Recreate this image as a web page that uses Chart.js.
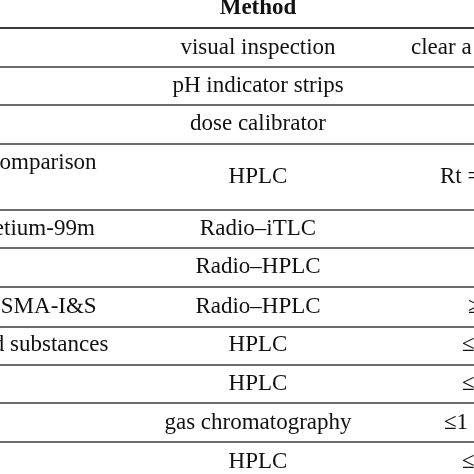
<!DOCTYPE html>
<html><head><meta charset="utf-8">
<script src="https://cdn.jsdelivr.net/npm/chart.js@4"></script>
<style>html,body{margin:0;padding:0;background:#fff;overflow:hidden}#w{width:474px;height:474px}</style>
</head><body><div id="w"><canvas id="c"></canvas></div>
<script>
// Row separator positions (table coordinate space 0..474, top=0)
const rowLines = [28, 67, 105, 144, 210, 248, 287, 327, 365, 403, 442];
// Method column (centered)
const methodText = ["visual inspection","pH indicator strips","dose calibrator","HPLC","Radio\u2013iTLC","Radio\u2013HPLC","Radio\u2013HPLC","HPLC","HPLC","gas chromatography","HPLC"];
const methodY = [48, 86, 124, 177, 229, 267, 307, 345, 384, 423, 462];
// Left (parameter) column fragments
const paramText = ["Identity comparison","Technetium-99m","PSMA-I&S","Related substances"];
const paramY = [163, 229, 307, 345];
const paramX = [-88, -62, -12, -66];
// Right (criteria) column fragments
const critText = ["clear a","Rt =","\u2265","\u22642","\u22642","\u22641","\u22644"];
const critY = [48, 177, 307, 345, 384, 423, 462];
const critX = [411, 440, 468, 462, 462, 444, 462];
const header = "Method";

const FONT = "'Liberation Serif','DejaVu Serif',serif";
const lineSets = rowLines.map(y => ({type:'line', data:[{x:-10,y},{x:484,y}], borderColor:'#3a3a3a', borderWidth: y===28?2:1.6, pointRadius:0}));
const textPlugin = {
  id:'tbl',
  afterDatasetsDraw(chart){
    const {ctx, scales:{x, y}} = chart;
    ctx.save();
    ctx.fillStyle = '#111';
    ctx.textBaseline = 'middle';
    ctx.font = "bold 23px " + FONT;
    ctx.textAlign = 'center';
    ctx.fillText(header, x.getPixelForValue(258), y.getPixelForValue(8));
    ctx.font = "23px " + FONT;
    methodText.forEach((t,i)=>ctx.fillText(t, x.getPixelForValue(258), y.getPixelForValue(methodY[i])));
    ctx.textAlign = 'left';
    paramText.forEach((t,i)=>ctx.fillText(t, x.getPixelForValue(paramX[i]), y.getPixelForValue(paramY[i])));
    critText.forEach((t,i)=>ctx.fillText(t, x.getPixelForValue(critX[i]), y.getPixelForValue(critY[i])));
    ctx.restore();
  }
};
new Chart(document.getElementById('c'), {
  type:'scatter',
  data:{datasets: lineSets},
  options:{
    responsive:true, maintainAspectRatio:false, animation:false,
    layout:{padding:0},
    plugins:{legend:{display:false}, tooltip:{enabled:false}},
    scales:{
      x:{type:'linear', min:0, max:474, display:false},
      y:{type:'linear', min:0, max:474, reverse:true, display:false}
    }
  },
  plugins:[textPlugin]
});
</script></body></html>
